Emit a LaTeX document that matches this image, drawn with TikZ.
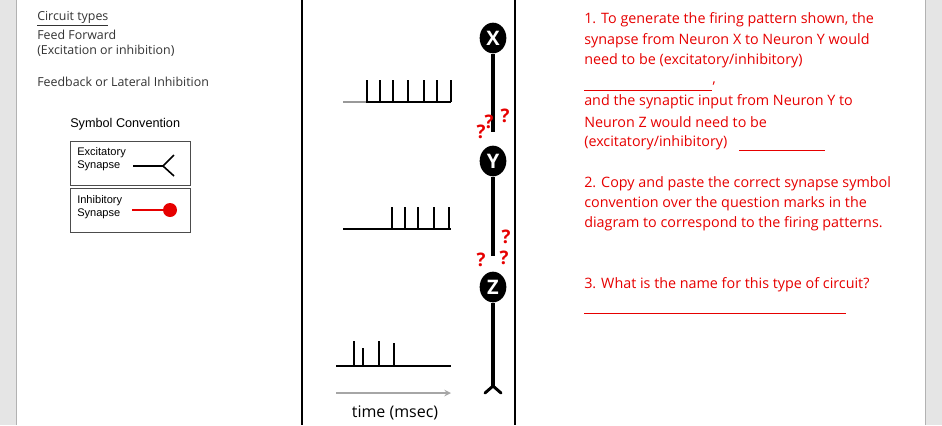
\documentclass[tikz,border=0pt]{standalone}
\usepackage{fontspec}
\usetikzlibrary{shapes.geometric}
\setmainfont{Open Sans}
\newfontfamily\arialf{Liberation Sans}
\begin{document}
\begin{tikzpicture}[x=0.75pt,y=-0.75pt,
  lt/.style={anchor=west,inner sep=0pt,font=\fontsize{9.3}{10}\selectfont,text=black!80},
  st/.style={anchor=west,inner sep=0pt,font=\arialf\fontsize{8.3}{9.8}\selectfont,align=left},
  rq/.style={anchor=west,inner sep=0pt,font=\fontsize{10.75}{12}\selectfont,text=qred},
  neuron/.style={ellipse,fill=black,text=white,minimum width=20pt,minimum height=23pt,inner sep=0pt,font=\bfseries\fontsize{15}{15}\selectfont},
  axon/.style={line width=3pt},
  spk/.style={line width=1.1pt},
  qm/.style={text=qred,font=\bfseries\fontsize{14}{14}\selectfont,inner sep=0pt}]
\definecolor{qred}{RGB}{230,0,0}
\useasboundingbox (0,0) rectangle (942,425);
\fill[black!10] (0,0) rectangle (16,425);
\fill[black!10] (925,0) rectangle (942,425);
\draw[black!30] (16,0) -- (16,425) (925,0)--(925,425);
\draw[line width=1pt] (302,0) -- (302,425) (515,0) -- (515,425);
% left text
\node[lt] (ct) at (37,19) {\underline{Circuit types}};
\node[lt] (ff) at (37,35) {Feed Forward};
\node[lt] (ei) at (37,51) {(Excitation or inhibition)};
\node[lt] (fb) at (37,82) {Feedback or Lateral Inhibition};
\node[anchor=west,inner sep=0pt,font=\arialf\fontsize{9.5}{10}\selectfont] (sc) at (70,124) {Symbol Convention};
\draw[black!70] (70,141) rectangle (190,185);
\draw[black!70] (70,188) rectangle (190,232);
\node[st] (ex) at (77,159) {Excitatory\\Synapse};
\node[st] (in) at (77,207) {Inhibitory\\Synapse};
\draw[line width=1.2pt] (133,166) -- (163,166) (174,155) -- (163,166) -- (174,176);
\draw[qred,line width=1.2pt] (132,210) -- (165,210);
\fill[qred] (170,210) circle (7);
% neurons
\node[neuron] (X) at (493,38) {X};
\node[neuron] (Y) at (493,161) {Y};
\node[neuron] (Z) at (493,287) {Z};
\coordinate (xe) at (493,132);
\coordinate (ye) at (493,256);
\coordinate (ze) at (493,386);
\draw[axon] (X) -- (xe);
\draw[axon] (Y) -- (ye);
\draw[axon] (Z) -- (ze);
\draw[line width=2.2pt,line cap=round] (485,393) -- (ze) -- (501,393);
\node[qm] (q1) at (481,132) {?};
\node[qm] (q2) at (489,122) {?};
\node[qm] (q3) at (505,116) {?};
\node[qm] (q4) at (506,237) {?};
\node[qm] (q5) at (481,260) {?};
\node[qm] (q6) at (504,258) {?};
% spike trains
\draw[black!40,line width=0.8pt] (343,102) -- (366,102);
\draw[spk] (366,102) -- (451,102);
\foreach \x in {367,380,393,408,424,437,451} \draw[spk] (\x,102) -- (\x,80);
\draw[spk] (343,229) -- (451,229);
\foreach \x in {392,405,418,434,449} \draw[spk] (\x,229) -- (\x,207);
\draw[spk] (336,366) -- (451,366);
\foreach \x/\t in {354/341,363/348,379/341,394/343} \draw[spk] (\x,366) -- (\x,\t);
\coordinate (ta) at (336,393);
\coordinate (tb) at (451,393);
\draw[black!35,line width=1.2pt,-stealth] (ta) -- (tb);
\node[inner sep=0pt,font=\fontsize{12}{13}\selectfont] (tm) at (395,413) {time (msec)};
% right questions
\node[rq] at (584,20) {1. To generate the firing pattern shown, the};
\node[rq] at (584,41) {synapse from Neuron X to Neuron Y would};
\node[rq] at (584,61) {need to be (excitatory/inhibitory)};
\draw[qred,line width=0.5pt] (584,90) -- (712,90);
\node[rq] at (712,84) {,};
\node[rq] at (584,102) {and the synaptic input from Neuron Y to};
\node[rq] at (584,122) {Neuron Z would need to be};
\node[rq] at (584,143) {(excitatory/inhibitory)};
\draw[qred,line width=0.5pt] (739,150) -- (825,150);
\node[rq] at (584,184) {2. Copy and paste the correct synapse symbol};
\node[rq] at (584,204) {convention over the question marks in the};
\node[rq] at (584,224) {diagram to correspond to the firing patterns.};
\node[rq] at (584,285) {3. What is the name for this type of circuit?};
\draw[qred,line width=0.5pt] (584,313) -- (846,313);
\end{tikzpicture}
\end{document}
